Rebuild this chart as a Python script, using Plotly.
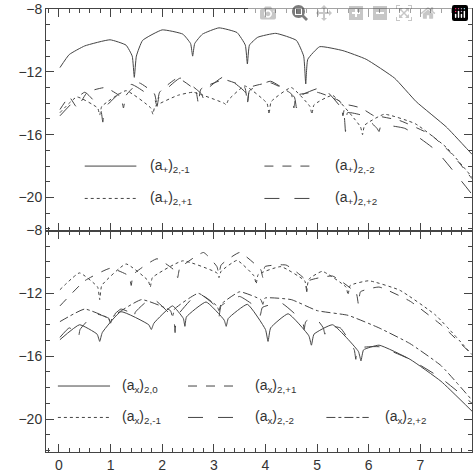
import plotly.graph_objects as go
from plotly.subplots import make_subplots

# ---- top panel data ----
t1_x = [0.02,0.2,0.5,0.99,1.3,1.42,1.46,1.5,1.62,2.0,2.4,2.55,2.59,2.63,2.78,3.1,3.45,3.61,3.65,3.69,3.85,4.2,4.6,4.74,4.78,4.82,5.05,5.5,5.95,6.5,6.92,7.5,8.0]
t1_y = [-11.73,-10.9,-10.35,-9.96,-10.3,-11.0,-12.35,-11.0,-10.0,-9.33,-9.6,-10.2,-11.0,-10.2,-9.6,-9.2,-9.5,-10.3,-11.5,-10.3,-9.8,-9.55,-10.0,-11.0,-12.77,-11.2,-10.4,-10.65,-11.2,-12.4,-13.9,-15.5,-17.25]
t2_x = [0.02,0.2,0.33,0.37,0.55,0.9,1.2,1.25,1.3,1.55,1.85,1.9,1.95,2.3,2.65,2.7,2.75,3.2,3.6,3.65,3.7,4.1,4.5,4.55,4.6,5.0,5.45,5.5,5.55,5.85,6.1,6.15,6.6,7.2,7.6,8.0]
t2_y = [-14.4,-13.6,-14.2,-14.2,-13.3,-13.0,-13.6,-14.3,-13.5,-12.7,-13.4,-14.1,-13.3,-12.4,-13.2,-14.0,-13.1,-12.5,-13.0,-14.0,-13.0,-12.7,-13.4,-14.3,-13.5,-13.3,-13.9,-14.8,-14.1,-14.3,-14.8,-14.8,-15.1,-16.0,-17.2,-18.8]
t3_x = [0.02,0.35,0.75,0.79,0.83,1.3,1.78,1.82,1.86,2.3,2.6,3.2,3.24,3.28,3.6,4.03,4.07,4.11,4.5,4.86,4.9,4.94,5.3,5.84,5.88,5.92,6.3,6.9,7.5,8.0]
t3_y = [-14.6,-13.6,-14.3,-14.75,-14.2,-13.2,-14.3,-14.7,-14.2,-13.5,-13.3,-14.0,-14.1,-13.8,-12.9,-14.0,-14.7,-13.9,-13.0,-14.2,-14.7,-14.1,-13.5,-15.5,-16.0,-15.4,-14.7,-15.3,-16.8,-18.7]
t4_x = [0.02,0.5,0.81,0.85,0.89,1.4,1.86,1.9,1.94,2.35,2.76,2.8,2.84,3.2,3.61,3.65,3.69,4.1,4.56,4.6,4.64,5.1,5.51,5.55,5.59,5.9,6.16,6.2,6.24,6.7,7.3,8.0]
t4_y = [-14.8,-13.3,-14.4,-15.2,-14.3,-12.8,-13.8,-14.2,-13.6,-12.4,-13.4,-13.7,-13.2,-12.3,-13.3,-14.1,-13.2,-12.6,-13.6,-14.3,-13.6,-13.0,-14.5,-15.8,-14.6,-14.8,-15.6,-15.8,-15.4,-15.6,-17.0,-19.8]

# ---- bottom panel data ----
b1_x = [0.02,0.4,0.74,0.79,0.84,1.2,1.74,1.79,1.84,2.2,2.41,2.44,2.47,2.85,3.2,3.24,3.28,3.65,4.0,4.05,4.1,4.44,4.84,4.89,4.94,5.3,5.8,5.85,5.9,6.2,6.8,7.4,8.0]
b1_y = [-14.95,-14.0,-14.6,-15.06,-14.5,-13.17,-14.0,-14.3,-13.9,-12.8,-13.6,-14.1,-13.5,-12.55,-13.7,-14.1,-13.6,-12.7,-14.3,-15.06,-14.2,-13.3,-14.7,-15.3,-14.6,-14.0,-15.7,-16.3,-15.6,-15.3,-16.2,-17.6,-19.5]
b2_x = [0.02,0.4,0.75,0.79,0.83,1.3,1.73,1.77,1.81,2.4,3.06,3.1,3.14,3.45,3.78,3.82,3.86,4.3,4.76,4.8,4.84,5.1,5.56,5.6,5.64,6.0,6.6,7.3,8.0]
b2_y = [-11.77,-10.7,-11.6,-12.4,-11.5,-10.13,-11.2,-11.6,-11.0,-9.93,-10.7,-11.0,-10.6,-9.9,-10.9,-11.4,-10.8,-10.3,-11.2,-11.7,-11.1,-10.6,-11.6,-12.1,-11.5,-11.2,-11.8,-13.4,-15.9]
b3_x = [0.02,0.5,1.0,1.36,1.4,1.44,1.9,2.26,2.3,2.34,2.8,3.06,3.1,3.14,3.5,3.91,3.95,3.99,4.4,4.76,4.8,4.84,5.3,5.76,5.8,5.84,6.2,6.8,7.4,8.0]
b3_y = [-12.8,-11.2,-10.4,-10.9,-11.5,-10.8,-9.8,-10.6,-11.0,-10.4,-9.4,-10.3,-10.8,-10.2,-9.4,-10.5,-11.0,-10.3,-10.2,-11.1,-11.9,-11.2,-10.9,-12.0,-12.7,-11.9,-11.6,-12.5,-14.0,-15.9]
b4_x = [0.02,0.2,0.35,0.38,0.41,0.7,0.97,1.0,1.03,1.2,1.42,1.45,1.48,1.8,2.22,2.25,2.28,2.7,3.06,3.1,3.14,3.5,3.86,3.9,3.94,4.3,4.72,4.75,4.78,4.95,5.12,5.15,5.18,5.45,5.72,5.75,5.78,6.2,6.8,7.4,8.0]
b4_y = [-14.8,-14.2,-14.5,-14.8,-14.3,-13.3,-13.6,-14.0,-13.5,-13.0,-13.3,-13.6,-13.2,-12.3,-13.6,-14.5,-13.5,-12.0,-12.9,-13.5,-12.8,-12.2,-13.0,-13.4,-12.9,-12.6,-13.8,-14.3,-13.8,-13.5,-14.2,-14.6,-14.1,-14.2,-15.6,-16.2,-15.5,-15.4,-16.2,-17.4,-19.0]
b5_x = [0.02,0.5,0.96,1.0,1.04,1.6,2.16,2.2,2.24,2.7,3.06,3.1,3.14,3.5,3.91,3.95,3.99,4.5,5.0,5.6,6.2,6.8,7.4,8.0]
b5_y = [-13.8,-13.0,-13.6,-13.9,-13.5,-12.4,-13.1,-13.5,-13.0,-12.0,-12.8,-13.1,-12.7,-11.9,-12.4,-12.7,-12.3,-12.4,-13.1,-13.4,-14.2,-15.2,-16.6,-18.8]

top_series = [
    (t1_x, t1_y, "solid", "(a<sub>+</sub>)<sub>2,-1</sub>"),
    (t2_x, t2_y, "dash", "(a<sub>+</sub>)<sub>2,-2</sub>"),
    (t3_x, t3_y, "dot", "(a<sub>+</sub>)<sub>2,+1</sub>"),
    (t4_x, t4_y, "longdash", "(a<sub>+</sub>)<sub>2,+2</sub>"),
]
bot_series = [
    (b1_x, b1_y, "solid", "(a<sub>x</sub>)<sub>2,0</sub>"),
    (b3_x, b3_y, "dash", "(a<sub>x</sub>)<sub>2,+1</sub>"),
    (b2_x, b2_y, "dot", "(a<sub>x</sub>)<sub>2,-1</sub>"),
    (b4_x, b4_y, "longdash", "(a<sub>x</sub>)<sub>2,-2</sub>"),
    (b5_x, b5_y, "dashdot", "(a<sub>x</sub>)<sub>2,+2</sub>"),
]

fig = make_subplots(rows=2, cols=1, vertical_spacing=0, shared_xaxes=True)
col = "#444"
for xs, ys, d, n in top_series:
    fig.add_trace(go.Scatter(x=xs, y=ys, mode="lines", line=dict(color=col, width=1, dash=d, shape="spline", smoothing=0.4), showlegend=False), row=1, col=1)
for xs, ys, d, n in bot_series:
    fig.add_trace(go.Scatter(x=xs, y=ys, mode="lines", line=dict(color=col, width=1, dash=d, shape="spline", smoothing=0.4), showlegend=False), row=2, col=1)

# legend samples (position in axis units)
top_leg = [(0.5, 1.5, 1.72, -18.0), (3.98, 5.0, 5.3, -18.0), (0.5, 1.5, 1.72, -20.06), (3.98, 5.0, 5.3, -20.06)]
bot_leg = [(-0.02, 0.99, 1.18, -17.9), (2.5, 3.5, 3.75, -17.9), (-0.02, 0.99, 1.18, -19.9), (2.5, 3.5, 3.75, -19.9), (5.18, 6.0, 6.27, -19.9)]
lf = dict(size=14, color="#333", family="Liberation Sans")
for (xs, ys, d, n), (a, b, tx, y) in zip(top_series, top_leg):
    fig.add_trace(go.Scatter(x=[a, b], y=[y, y], mode="lines", line=dict(color=col, width=1, dash=d), showlegend=False), row=1, col=1)
    fig.add_annotation(x=tx, y=y, text=n, showarrow=False, xanchor="left", font=lf, row=1, col=1)
for (xs, ys, d, n), (a, b, tx, y) in zip(bot_series, bot_leg):
    fig.add_trace(go.Scatter(x=[a, b], y=[y, y], mode="lines", line=dict(color=col, width=1, dash=d), showlegend=False), row=2, col=1)
    fig.add_annotation(x=tx, y=y, text=n, showarrow=False, xanchor="left", font=lf, row=2, col=1)

ax = dict(showline=True, linecolor="#444", linewidth=1, mirror="ticks", ticks="inside", ticklen=8,
          tickcolor="#444", showgrid=False, zeroline=False, tickfont=dict(size=14, color="#333"),
          minor=dict(ticks="inside", ticklen=4, tickcolor="#444", showgrid=False))
fig.update_xaxes(**ax, range=[-0.25, 8], dtick=1, tick0=0, minor_dtick=0.2)
fig.update_xaxes(showticklabels=False, row=1, col=1)
fig.update_yaxes(**ax, range=[-22.1, -8], dtick=4, tick0=-8, minor_dtick=1)
fig.update_layout(width=474, height=474, margin=dict(l=46, r=1, t=7, b=16),
                  plot_bgcolor="white", paper_bgcolor="white",
                  font=dict(family="Liberation Sans", size=14, color="#333"))
fig.write_html("out.html", post_script="document.body.style.margin='0';document.body.style.overflow='hidden';")
